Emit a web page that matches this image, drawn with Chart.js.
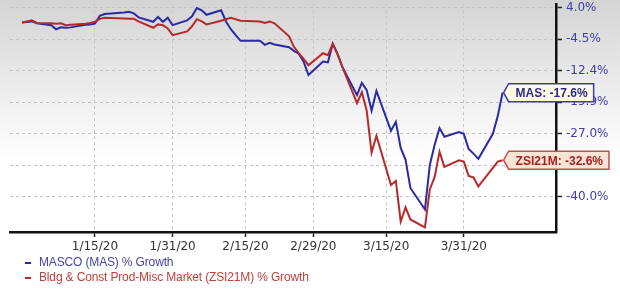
<!DOCTYPE html>
<html lang="en">
<head>
  <meta charset="UTF-8" />
  <title>MAS vs ZSI21M % Growth</title>
  <script src="https://cdn.jsdelivr.net/npm/chart.js"></script>
  <style>
    body {
      margin: 0;
      background: #fff;
    }
    #wrap {
      position: relative;
      width: 620px;
      height: 289px;
      background: linear-gradient(to bottom, #d4d4d4 0%, #ececec 30%, #ffffff 55%);
    }
    #legend {
      position: absolute;
      left: 25px;
      top: 255px;
      font-family: "Liberation Sans", Arial, sans-serif;
      font-size: 12px;
      line-height: 15px;
      letter-spacing: -0.15px;
    }
    #legend span.mark {
      display: inline-block;
      width: 6px;
      height: 2px;
      margin-right: 8px;
      vertical-align: middle;
    }
  </style>
</head>
<body>
  <div id="wrap">
    <canvas id="chart" width="620" height="289"></canvas>
    <div id="legend">
      <div style="color:#4646a6"><span class="mark" style="background:#2a2aa5"></span>MASCO (MAS) % Growth</div>
      <div style="color:#c0403a"><span class="mark" style="background:#b52a2a"></span>Bldg &amp; Const Prod-Misc Market (ZSI21M) % Growth</div>
    </div>
  </div>

  <script>
    // days counted from 12/31/19, trading days only
    const days = [0, 2, 3, 6, 7, 8, 9, 10, 13, 14, 15, 16, 17, 21, 22, 23, 24, 27, 28, 29, 30, 31,
      34, 35, 36, 37, 38, 41, 42, 43, 44, 45, 49, 50, 51, 52, 55, 56, 57, 58, 59,
      62, 63, 64, 65, 66, 69, 70, 71, 72, 73, 76, 77, 78, 79, 80, 83, 84, 85, 86, 87, 90, 91,
      92, 93, 94, 97, 98, 99];

    const masGrowth = [0.0, 0.3, -0.2, -0.7, -1.8, -1.3, -1.4, -1.3, -0.6, -0.5, -0.3, 1.8, 2.3, 2.7, 2.9, 2.5, 1.4, 0.2, 1.5, 0.2, 1.3, -0.7,
      0.6, 1.7, 3.9, 3.3, 2.1, 3.3, 0.3, -1.8, -3.4, -4.9, -4.9, -5.9, -5.4, -5.8, -6.5, -7.4, -8.1, -10.1, -13.4,
      -10.1, -10.3, -5.6, -8.2, -11.5, -18.2, -15.3, -17.0, -21.8, -17.2, -26.3, -24.3, -30.0, -32.5, -38.2,
      -42.5, -33.6, -29.3, -25.7, -27.6, -26.6, -27.0,
      -30.2, -31.2, -32.3, -27.0, -23.0, -17.6];

    const zsiGrowth = [0.0, 0.6, -0.1, -0.2, -0.3, -0.2, -0.7, -0.6, -0.3, -0.1, 0.2, 1.0, 1.3, 1.1, 1.0, 1.0, 0.3, -1.4, -0.5, -0.7, -1.6, -3.4,
      -2.4, -1.0, 0.9, 0.3, -0.5, 0.5, 0.9, 1.3, 0.9, 0.5, 0.3, -0.1, 0.3, -0.2, -3.7, -6.4, -8.0, -9.4, -11.0,
      -8.0, -8.5, -5.6, -8.3, -11.5, -20.1, -17.5, -21.8, -31.0, -27.4, -37.6, -36.8, -44.9, -42.1, -44.5,
      -46.1, -38.5, -36.0, -30.8, -34.0, -32.6, -32.9,
      -35.8, -36.1, -37.9, -34.2, -32.9, -32.6];

    const xTickDays = [15, 31, 46, 60, 75, 91];
    const xTickLabels = ['1/15/20', '1/31/20', '2/15/20', '2/29/20', '3/15/20', '3/31/20'];
    const yTicks = [4.0, -4.5, -12.4, -19.9, -27.0, -33.7, -40.0];

    // y axis: tick values sit at even spacing, values between them are interpolated
    class GrowthScale extends Chart.LinearScale {
      toU(v) {
        const t = yTicks;
        let i = 0;
        while (i < t.length - 2 && v < t[i + 1]) i++;
        return i + (t[i] - v) / (t[i] - t[i + 1]);
      }
      getPixelForValue(v) {
        const a = this.toU(this.max), b = this.toU(this.min);
        return this.top + (this.toU(v) - a) / (b - a) * this.height;
      }
      getValueForPixel(p) {
        const a = this.toU(this.max), b = this.toU(this.min);
        const u = a + (p - this.top) / this.height * (b - a);
        const t = yTicks;
        const i = Math.max(0, Math.min(t.length - 2, Math.floor(u)));
        return t[i] - (u - i) * (t[i] - t[i + 1]);
      }
    }
    GrowthScale.id = 'growth';
    GrowthScale.defaults = Chart.LinearScale.defaults;
    Chart.register(GrowthScale);

    const callouts = [
      { ds: 0, text: 'MAS: ' + masGrowth[masGrowth.length - 1].toFixed(1) + '%', fill: '#fdfbe2', stroke: '#3c3cae', color: '#2b2b8f' },
      { ds: 1, text: 'ZSI21M: ' + zsiGrowth[zsiGrowth.length - 1].toFixed(1) + '%', fill: '#fbe4d5', stroke: '#c0504d', color: '#a52222' }
    ];

    const calloutPlugin = {
      id: 'callouts',
      afterDraw(chart) {
        const ctx = chart.ctx;
        callouts.forEach(c => {
          const meta = chart.getDatasetMeta(c.ds);
          const pt = meta.data[meta.data.length - 1];
          ctx.save();
          ctx.font = 'bold 12px "Liberation Sans", Arial, sans-serif';
          const w = ctx.measureText(c.text).width + 13;
          const h = 18;
          const x0 = pt.x + 1, bx = x0 + 5, y0 = pt.y;
          ctx.beginPath();
          ctx.moveTo(x0, y0);
          ctx.lineTo(bx, y0 - h / 2);
          ctx.lineTo(bx + w, y0 - h / 2);
          ctx.lineTo(bx + w, y0 + h / 2);
          ctx.lineTo(bx, y0 + h / 2);
          ctx.closePath();
          ctx.fillStyle = c.fill;
          ctx.fill();
          ctx.lineWidth = 1.5;
          ctx.strokeStyle = c.stroke;
          ctx.stroke();
          ctx.fillStyle = c.color;
          ctx.textBaseline = 'middle';
          ctx.fillText(c.text, bx + 7, y0 + 1);
          ctx.restore();
        });
      }
    };

    const ctx = document.getElementById('chart').getContext('2d');
    new Chart(ctx, {
      type: 'line',
      data: {
        datasets: [{
          label: 'MASCO (MAS) % Growth',
          data: days.map((d, i) => ({ x: d, y: masGrowth[i] })),
          borderColor: '#2a2aa5',
          borderWidth: 2,
          pointRadius: 0,
          tension: 0,
          order: 1
        }, {
          label: 'Bldg & Const Prod-Misc Market (ZSI21M) % Growth',
          data: days.map((d, i) => ({ x: d, y: zsiGrowth[i] })),
          borderColor: '#b52a2a',
          borderWidth: 2,
          pointRadius: 0,
          tension: 0,
          order: 0
        }]
      },
      options: {
        responsive: false,
        animation: false,
        layout: { padding: { left: 10, top: 4, right: 0, bottom: 0 } },
        plugins: {
          legend: { display: false },
          tooltip: { enabled: false }
        },
        scales: {
          x: {
            type: 'linear',
            min: -2.5,
            max: 110,
            afterBuildTicks: s => { s.ticks = xTickDays.map(v => ({ value: v })); },
            afterFit: s => { s.height = 57; s.paddingLeft = 0; s.paddingRight = 0; },
            grid: {
              color: '#c9c9c9',
              tickColor: '#222',
              tickLength: 5,
              tickWidth: 1.5
            },
            border: { color: '#111', width: 2.5, dash: [3, 3] },
            ticks: {
              autoSkip: false,
              maxRotation: 0,
              padding: 3,
              color: '#333',
              font: { family: 'DejaVu Sans', size: 12 },
              callback: (v, i) => xTickLabels[i]
            }
          },
          y: {
            type: 'growth',
            position: 'right',
            min: -47,
            max: 5,
            afterBuildTicks: s => { s.ticks = yTicks.map(v => ({ value: v })); },
            afterFit: s => { s.width = 64; s.paddingTop = 0; s.paddingBottom = 0; },
            grid: {
              color: '#c4c4c4',
              tickColor: '#222',
              tickLength: 6,
              tickWidth: 1.5
            },
            border: { color: '#111', width: 2.5, dash: [3, 3] },
            ticks: {
              padding: 4,
              color: '#3d3da6',
              font: { family: 'DejaVu Sans', size: 12 },
              callback: v => v.toFixed(1) + '%'
            }
          }
        }
      },
      plugins: [calloutPlugin]
    });
  </script>
</body>
</html>
